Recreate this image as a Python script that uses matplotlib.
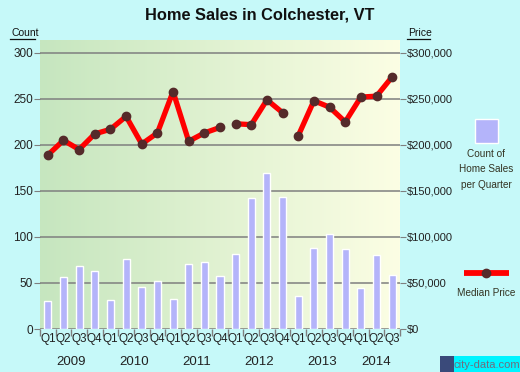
import matplotlib
matplotlib.use("Agg")
import matplotlib.pyplot as plt
import numpy as np
from matplotlib.colors import to_rgb
from matplotlib.lines import Line2D
from matplotlib.patches import Rectangle

plt.rcParams['font.family'] = ['Liberation Sans', 'DejaVu Sans']

quarters = ["Q1", "Q2", "Q3", "Q4"] * 5 + ["Q1", "Q2", "Q3"]
years = ["2009", "2010", "2011", "2012", "2013", "2014"]
year_quarters = [4, 4, 4, 4, 4, 3]
sales_count = [30, 56, 68, 63, 32, 76, 46, 52, 33, 71, 73, 58,
               81, 142, 170, 143, 36, 88, 103, 87, 45, 80, 59]
median_price = [189000, 205000, 195000, 212000, 217000, 231000, 201000, 213000,
                258000, 204000, 213000, 219000,
                223000, 222000, 249000, 235000,
                210000, 248000, 241000, 225000, 252000, 253000, 274000]
# line is broken before these quarter indices
price_breaks = [12, 16]
count_ticks = [0, 50, 100, 150, 200, 250, 300]
price_ticks = [0, 50000, 100000, 150000, 200000, 250000, 300000]

W, H = 520, 372
fig = plt.figure(figsize=(W / 100, H / 100), dpi=100)
fig.patch.set_facecolor('#c6f9f9')

ax = fig.add_axes([40 / W, (H - 329) / H, 360 / W, 289 / H])
n = len(sales_count)
x = np.arange(n)
ax.set_xlim(-0.5, n - 0.5)
ax.set_ylim(0, 314)

# gradient background
c1 = np.array(to_rgb('#c6e6bf'))
c2 = np.array(to_rgb('#fcfee4'))
t = np.linspace(0, 1, 256)
grad = (c1[None, :] * (1 - t[:, None]) + c2[None, :] * t[:, None])[None, :, :]
ax.imshow(grad, aspect='auto', extent=[-0.5, n - 0.5, 0, 314], zorder=0)

ax.bar(x, sales_count, width=0.45, color='#b4b4fa', edgecolor='white', linewidth=1, zorder=3)

for s in ax.spines.values():
    s.set_visible(False)
ax.set_yticks(count_ticks)
ax.set_yticklabels([str(v) for v in count_ticks])
ax.yaxis.grid(True, color='#7f7f7f', linewidth=1.1, zorder=1)
ax.set_axisbelow(True)
ax.tick_params(axis='y', length=4, color='#7f7f7f', pad=1, labelsize=8.5, labelcolor='#222222')

ax.set_xticks(np.arange(-0.5, n, 1.0))
ax.set_xticklabels([])
ax.set_xticks(x, minor=True)
ax.set_xticklabels(quarters, minor=True)
ax.tick_params(axis='x', which='major', length=5, color='#7f7f7f', width=1)
ax.tick_params(axis='x', which='minor', length=0, pad=3, labelsize=8.5, labelcolor='#222222')

start = 0
for yr, nq in zip(years, year_quarters):
    cx = start + (nq - 1) / 2
    ax.text(cx, -0.095, yr, transform=ax.get_xaxis_transform(), ha='center', va='top',
            fontsize=9.5, color='#222222')
    start += nq

ax2 = ax.twinx()
ax2.set_ylim(0, 314000)
for s in ax2.spines.values():
    s.set_visible(False)
ax2.set_yticks(price_ticks)
ax2.set_yticklabels(['${:,}'.format(v) for v in price_ticks])
ax2.tick_params(axis='y', length=4, color='#7f7f7f', pad=1, labelsize=8, labelcolor='#222222')

bounds = [0] + price_breaks + [n]
for a, b in zip(bounds[:-1], bounds[1:]):
    ax2.plot(x[a:b], median_price[a:b], color='#ff0000', linewidth=3.8,
             marker='o', markersize=6, markerfacecolor='#552a2a',
             markeredgecolor='#552a2a', zorder=5, solid_capstyle='butt')

fig.text(260 / W, 1 - 15 / H, 'Home Sales in Colchester, VT', ha='center', va='center',
         fontsize=11.8, fontweight='bold', color='#111111')

# axis captions with underline
fig.text(11 / W, 1 - 33 / H, 'Count', ha='left', va='center', fontsize=7.5, color='#111111')
fig.add_artist(Line2D([10 / W, 35 / W], [1 - 39 / H, 1 - 39 / H], color='#111111', linewidth=0.9))
fig.text(408 / W, 1 - 33 / H, 'Price', ha='left', va='center', fontsize=7.5, color='#111111')
fig.add_artist(Line2D([407 / W, 430 / W], [1 - 39 / H, 1 - 39 / H], color='#111111', linewidth=0.9))

# legend
fig.add_artist(Rectangle((475 / W, 1 - 143 / H), 23 / W, 24 / H, facecolor='#b4b4fa',
                         edgecolor='white', linewidth=1, transform=fig.transFigure))
for i, s in enumerate(['Count of', 'Home Sales', 'per Quarter']):
    fig.text(486 / W, 1 - (154 + 15.5 * i) / H, s, ha='center', va='center',
             fontsize=7.2, color='#333322')
fig.add_artist(Line2D([464 / W, 509 / W], [1 - 273 / H, 1 - 273 / H], color='#ff0000',
                      linewidth=4.2, solid_capstyle='butt'))
fig.add_artist(Line2D([486 / W], [1 - 273 / H], marker='o', markersize=6,
                      markerfacecolor='#552a2a', markeredgecolor='#552a2a', linestyle='none'))
fig.text(486 / W, 1 - 293 / H, 'Median Price', ha='center', va='center',
         fontsize=7.2, color='#333322')

# watermark
fig.add_artist(Rectangle((440 / W, 0), 14 / W, 16 / H, facecolor='#3a4a7a',
                         edgecolor='none', transform=fig.transFigure, zorder=0))
fig.add_artist(Rectangle((454 / W, 0), 66 / W, 16 / H, facecolor='#00f4ff',
                         edgecolor='none', transform=fig.transFigure, zorder=0))
fig.text(487 / W, 7 / H, 'city-data.com', ha='center', va='center', fontsize=8,
         color='#6e6e80', zorder=5)

fig.savefig('out.png', dpi=100, facecolor=fig.get_facecolor())
